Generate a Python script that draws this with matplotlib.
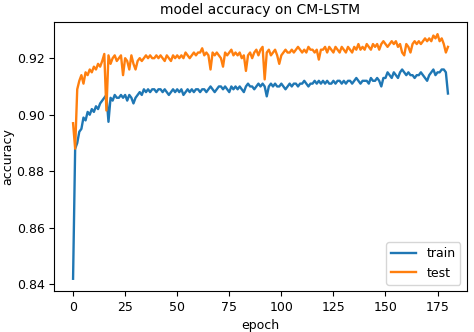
import matplotlib
matplotlib.use("Agg")
import matplotlib.pyplot as plt
import numpy as np

plt.rcParams['font.size'] = 9

# accuracy per epoch
train = [
    0.842, 0.888, 0.890, 0.894, 0.895, 0.899, 0.898, 0.901, 0.900, 0.902,
    0.901, 0.903, 0.902, 0.904, 0.905, 0.906, 0.907, 0.8975, 0.906, 0.905,
    0.907, 0.906, 0.906, 0.907, 0.906, 0.907, 0.905, 0.907, 0.906, 0.904,
    0.906, 0.907, 0.908, 0.907, 0.909, 0.908, 0.909, 0.908, 0.909, 0.909,
    0.908, 0.909, 0.909, 0.908, 0.909, 0.908, 0.907, 0.908, 0.909, 0.908,
    0.909, 0.908, 0.909, 0.907, 0.908, 0.909, 0.908, 0.909, 0.908, 0.909,
    0.909, 0.908, 0.909, 0.909, 0.908, 0.909, 0.910, 0.909, 0.908, 0.909,
    0.910, 0.910, 0.909, 0.910, 0.909, 0.908, 0.910, 0.909, 0.910, 0.909,
    0.910, 0.909, 0.908, 0.910, 0.911, 0.910, 0.910, 0.909, 0.910, 0.911,
    0.910, 0.911, 0.910, 0.9065, 0.910, 0.911, 0.910, 0.911, 0.910, 0.910,
    0.911, 0.910, 0.909, 0.910, 0.911, 0.910, 0.911, 0.911, 0.910, 0.911,
    0.911, 0.912, 0.911, 0.910, 0.911, 0.911, 0.912, 0.911, 0.912, 0.911,
    0.912, 0.911, 0.912, 0.911, 0.911, 0.912, 0.911, 0.912, 0.912, 0.911,
    0.912, 0.911, 0.912, 0.912, 0.911, 0.912, 0.913, 0.912, 0.911, 0.912,
    0.912, 0.912, 0.911, 0.913, 0.912, 0.912, 0.913, 0.912, 0.910, 0.913,
    0.913, 0.915, 0.914, 0.913, 0.915, 0.914, 0.913, 0.915, 0.916, 0.915,
    0.914, 0.915, 0.914, 0.914, 0.913, 0.914, 0.914, 0.915, 0.914, 0.913,
    0.912, 0.914, 0.915, 0.916, 0.914, 0.915, 0.915, 0.916, 0.916, 0.915,
    0.9075,
]

test = [
    0.897, 0.888, 0.909, 0.912, 0.914, 0.911, 0.915, 0.914, 0.916, 0.915,
    0.917, 0.916, 0.918, 0.917, 0.919, 0.9215, 0.9015, 0.921, 0.918, 0.920,
    0.921, 0.919, 0.920, 0.921, 0.914, 0.920, 0.919, 0.916, 0.921, 0.918,
    0.916, 0.919, 0.920, 0.919, 0.920, 0.921, 0.920, 0.921, 0.920, 0.920,
    0.921, 0.920, 0.921, 0.920, 0.919, 0.921, 0.920, 0.919, 0.921, 0.920,
    0.921, 0.920, 0.921, 0.920, 0.922, 0.921, 0.920, 0.921, 0.922, 0.921,
    0.922, 0.922, 0.9235, 0.921, 0.922, 0.921, 0.916, 0.922, 0.921, 0.922,
    0.921, 0.920, 0.917, 0.922, 0.921, 0.922, 0.923, 0.921, 0.922, 0.921,
    0.922, 0.920, 0.921, 0.9155, 0.921, 0.922, 0.920, 0.922, 0.923, 0.921,
    0.923, 0.924, 0.9125, 0.922, 0.923, 0.921, 0.922, 0.923, 0.921, 0.918,
    0.921, 0.922, 0.923, 0.922, 0.922, 0.923, 0.922, 0.923, 0.924, 0.923,
    0.922, 0.923, 0.922, 0.924, 0.923, 0.923, 0.922, 0.923, 0.9195, 0.923,
    0.923, 0.924, 0.922, 0.924, 0.923, 0.922, 0.924, 0.923, 0.922, 0.924,
    0.923, 0.922, 0.924, 0.923, 0.922, 0.924, 0.923, 0.925, 0.923, 0.924,
    0.923, 0.925, 0.924, 0.923, 0.925, 0.924, 0.925, 0.923, 0.925, 0.926,
    0.925, 0.924, 0.925, 0.926, 0.925, 0.926, 0.924, 0.925, 0.922, 0.921,
    0.925, 0.924, 0.922, 0.925, 0.926, 0.925, 0.926, 0.925, 0.926, 0.927,
    0.926, 0.927, 0.926, 0.928, 0.927, 0.9285, 0.926, 0.927, 0.925, 0.922,
    0.924,
]

epochs = np.arange(len(train))

fig = plt.figure(figsize=(4.74, 3.32), dpi=100)
ax = fig.add_axes([0.1146, 0.1235, 0.870, 0.8105])

ax.plot(epochs, train, label='train', linewidth=1.7)
ax.plot(epochs, test, label='test', linewidth=1.7)

ax.set_title('model accuracy on CM-LSTM', fontsize=10)
ax.set_xlabel('epoch')
ax.set_ylabel('accuracy', labelpad=2)
ax.set_xticks([0, 25, 50, 75, 100, 125, 150, 175])
ax.set_yticks([0.84, 0.86, 0.88, 0.90, 0.92])
ax.legend(loc='lower right')

fig.savefig('out.png', dpi=100)
